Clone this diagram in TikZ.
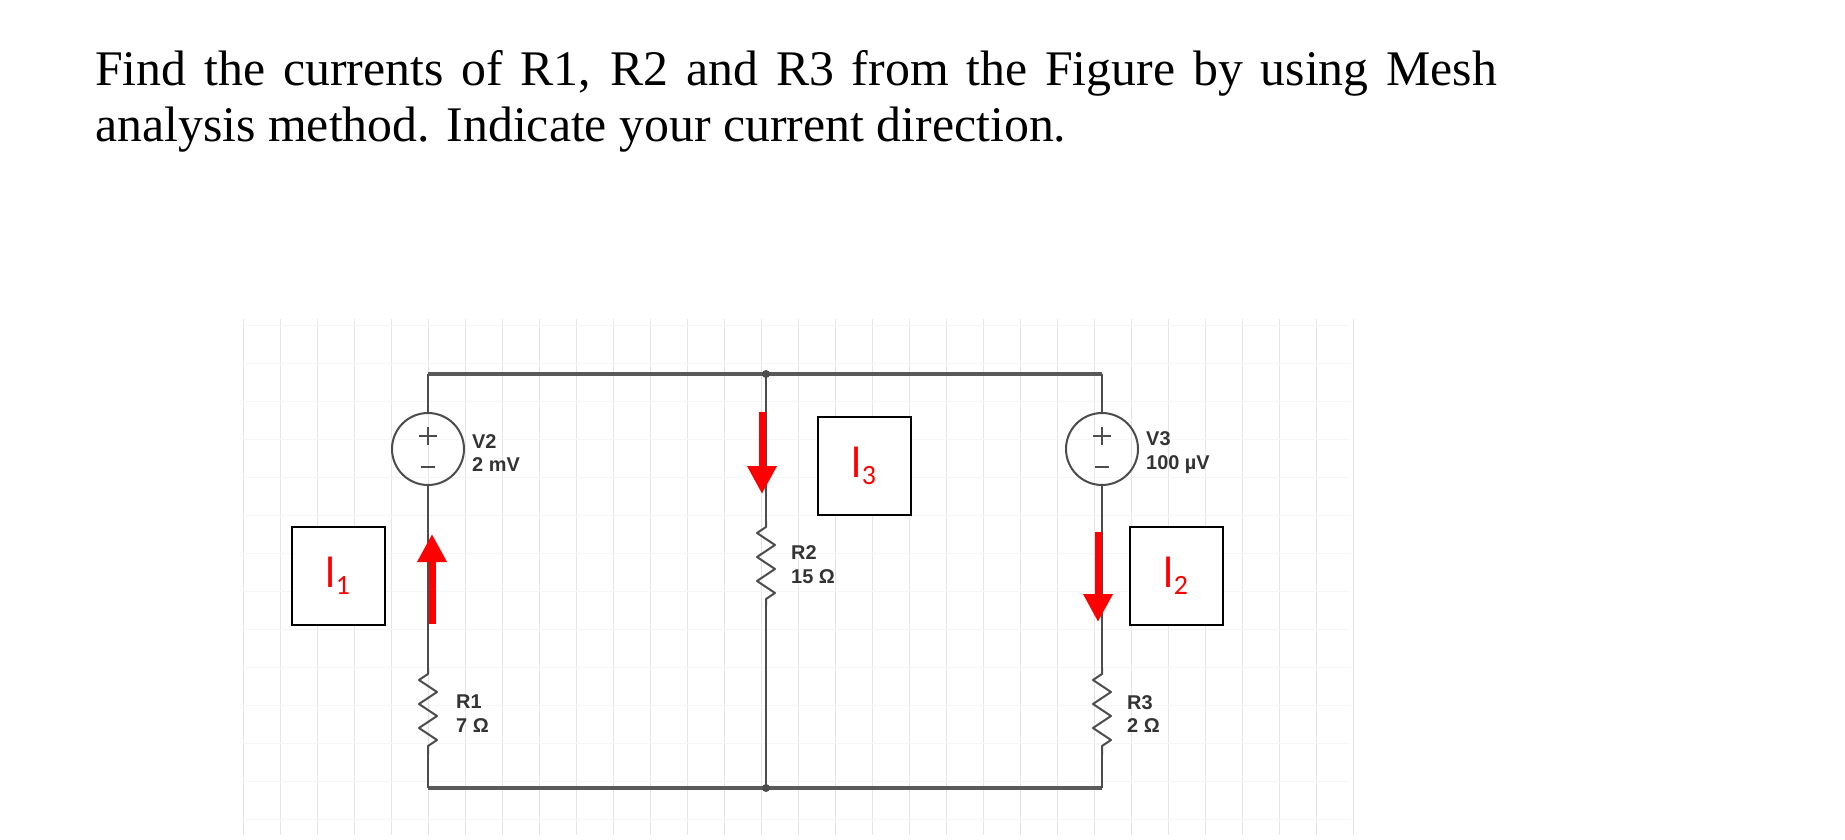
\documentclass[tikz,border=0pt]{standalone}
\usepackage{fontspec}
\setmainfont{Liberation Serif}
\newfontfamily\labfont{Liberation Sans}
\newfontfamily\calfont{Carlito}
\usetikzlibrary{arrows.meta}
\begin{document}
\begin{tikzpicture}[x=1bp,y=-1bp,
  wire/.style={draw=black!70,line width=2bp},
  bus/.style={draw=black!65,line width=4bp},
  comp/.style={font=\labfont\fontsize{20}{23}\selectfont\bfseries,text=black!80,anchor=west,align=left,inner sep=0},
  box/.style={draw,line width=2bp,fill=white,minimum width=93bp,minimum height=98bp,font=\calfont\fontsize{44}{44}\selectfont,text=red},
  cur/.style={draw=red,line width=7bp,-{Triangle[length=28bp,width=28bp]}},
  res/.style={draw=black!70,line width=2bp,line join=round}]
\useasboundingbox (0,0) rectangle (1845,840);
\fill[white] (0,0) rectangle (1845,840);
\node[anchor=base west,font=\fontsize{50}{57}\selectfont,align=justify,inner sep=0,text width=1402bp] (q) at (95,85) {Find the currents of R1, R2 and R3 from the Figure by using Mesh\linebreak analysis method. Indicate your current direction.};
% grid
\foreach \i in {0,...,30}{\draw[black!10,line width=1bp] ({243+\i*37},319) -- ({243+\i*37},835);}
\foreach \j in {0,...,13}{\draw[black!4,line width=1bp] (243,{325+\j*38}) -- (1349,{325+\j*38});}
% sources
\node[circle,draw=black!70,line width=2bp,minimum size=72bp,inner sep=0] (v2) at (428,449) {};
\node[circle,draw=black!70,line width=2bp,minimum size=72bp,inner sep=0] (v3) at (1102,449) {};
\foreach \x in {428,1102}{
 \draw[black!70,line width=2bp] (\x-9,436) -- (\x+9,436) (\x,427) -- (\x,445);
 \draw[black!70,line width=2bp] (\x-7,467) -- (\x+7,467);}
\coordinate (tl) at (428,374); \coordinate (tm) at (766,374); \coordinate (tr) at (1102,374);
\coordinate (bl) at (428,788); \coordinate (bm) at (766,788); \coordinate (br) at (1102,788);
\coordinate (r1a) at (428,668); \coordinate (r1b) at (428,755);
\coordinate (r2a) at (766,521); \coordinate (r2b) at (766,606);
\coordinate (r3a) at (1102,668); \coordinate (r3b) at (1102,755);
\draw[bus] (tl) -- (tr); \draw[bus] (bl) -- (br);
\fill[black!70] (tm) circle (4bp) (bm) circle (4bp);
\draw[wire] (tl) -- (v2.north) (v2.south) -- (r1a) (r1b) -- (bl);
\draw[wire] (tr) -- (v3.north) (v3.south) -- (r3a) (r3b) -- (br);
\draw[wire] (tm) -- (r2a) (r2b) -- (bm);
\foreach \a/\b in {r1a/r1b,r2a/r2b,r3a/r3b}{
 \draw[res] (\a) -- ++(0,6) -- ++(-9,6) -- ++(18,12) -- ++(-18,12) -- ++(18,12) -- ++(-18,12) -- ++(18,12) -- ++(-9,6) -- (\b);}
\node[comp] (lv2) at (472,453) {V2\\[1bp]2 mV};
\node[comp] (lv3) at (1146,453) {V3\\[1bp]100 µV};
\node[comp] (lr2) at (791,565) {R2\\[1bp]15 Ω};
\node[comp] (lr1) at (456,714) {R1\\[1bp]7 Ω};
\node[comp] (lr3) at (1127,714) {R3\\[1bp]2 Ω};
\node[box] (b3) at (864,466) {l\raisebox{-7bp}{\fontsize{28}{28}\selectfont 3}};
\node[box] (b1) at (338,576) {l\raisebox{-7bp}{\fontsize{28}{28}\selectfont 1}};
\node[box] (b2) at (1176,576) {l\raisebox{-7bp}{\fontsize{28}{28}\selectfont 2}};
\coordinate (a1s) at (432,624); \coordinate (a1e) at (432,534);
\coordinate (a3s) at (762,412); \coordinate (a3e) at (762,494);
\coordinate (a2s) at (1098,532); \coordinate (a2e) at (1098,622);
\draw[cur] (a1s) -- (a1e); \draw[cur] (a3s) -- (a3e); \draw[cur] (a2s) -- (a2e);
\end{tikzpicture}
\end{document}
